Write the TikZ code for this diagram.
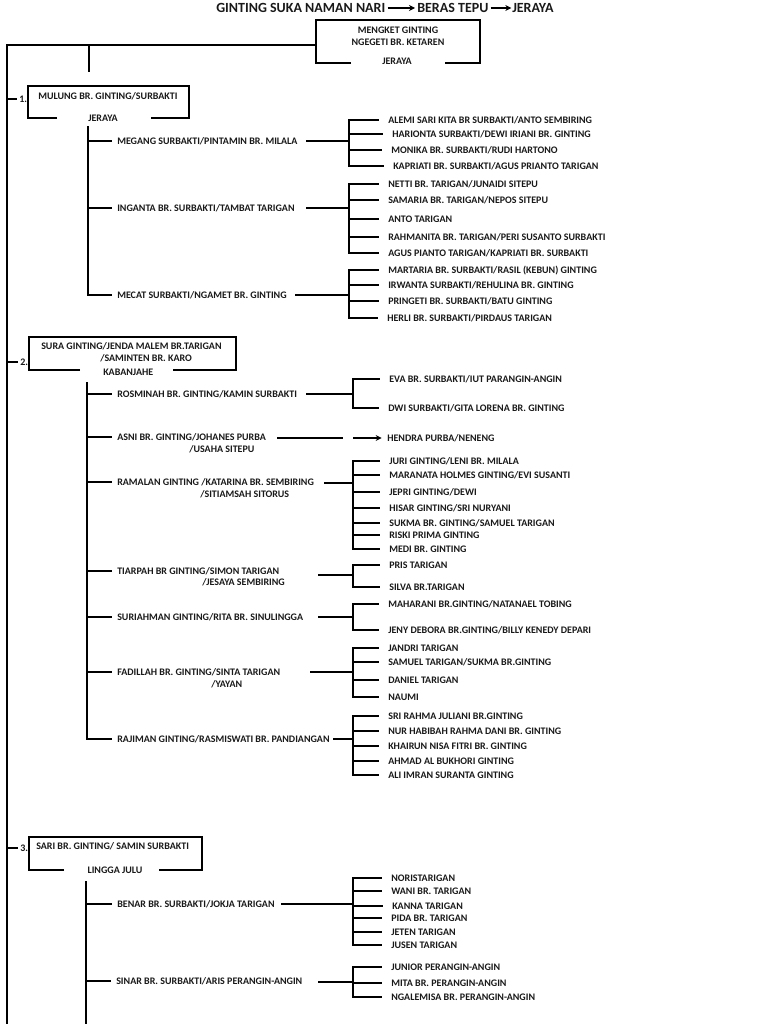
\documentclass[tikz,border=0pt]{standalone}
\usepackage{fontspec}
\setmainfont{Carlito}
\usetikzlibrary{arrows.meta}
\newcommand{\kidgroup}[4]{%
  \coordinate (#1) at (#2,#3);
  \foreach \gx/\gy/\gt [count=\gi] in {#4} {
    \node[txt] (#1-\gi) at (\gx,\gy) {\gt};
    \draw[ln] (#1) |- ([xshift=-6.5pt]#1-\gi.west);
  }}
\begin{document}
\begin{tikzpicture}[x=0.75pt,y=-0.75pt,
  ln/.style={line width=1.6pt,black},
  mainln/.style={line width=1.9pt,black},
  txt/.style={font=\bfseries\fontsize{7.5}{8}\selectfont, anchor=west, inner sep=0pt,
    text height=4.8pt, text depth=0pt, text=black!90},
  ctxt/.style={txt, anchor=center},
  ttl/.style={font=\bfseries\fontsize{10.5}{12}\selectfont, anchor=west, inner sep=0pt,
    text height=7pt, text depth=0pt, text=black!90},
  arr/.style={line width=1.3pt,-{Stealth[length=4.5pt,width=4.5pt]}}]
\useasboundingbox (0,0) rectangle (768,1024);

% Title
\node[ttl] (t1) at (216,8) {GINTING SUKA NAMAN NARI};
\node[ttl] (t2) at (417,8) {BERAS TEPU};
\node[ttl] (t3) at (512,8) {JERAYA};
\draw[arr] ([xshift=1.5pt]t1.east) -- ([xshift=-1.5pt]t2.west);
\draw[arr] ([xshift=1.5pt]t2.east) -- ([xshift=-0.5pt]t3.west);

% Top box
\node[ctxt] (m1) at (398,30) {MENGKET GINTING};
\node[ctxt] (m2) at (398,42) {NGEGETI BR. KETAREN};
\node[ctxt] (m3) at (397,61) {JERAYA};
\draw[ln] (351,63) -- (316,63) -- (316,20) -- (480,20) -- (480,63) -- (445,63);
\coordinate (top) at (316,45);
\coordinate (lt) at (7,45);
\coordinate (lb) at (7,1024);
\coordinate (st) at (89,45);
\coordinate (sb) at (89,72);
\draw[mainln] (lb) -- (lt) -- (top);
\draw[ln] (st) -- (sb);

% ================= Section 1
\coordinate (L1) at (7,99);
\node[txt] (n1) at (19,99) {1.};
\draw[ln] (L1) -- ([xshift=-1.5pt]n1.west);
\node[txt] (h1) at (38,96) {MULUNG BR. GINTING/SURBAKTI};
\node[ctxt] (h1b) at (103,118) {JERAYA};
\draw[ln] (57,118) -- (28,118) -- (28,86) -- (189,86) -- (189,118) -- (151,118);
\coordinate (tr1) at (88,126);

\node[txt] (c11) at (117,141) {MEGANG SURBAKTI/PINTAMIN BR. MILALA};
\node[txt] (c12) at (117,208) {INGANTA BR. SURBAKTI/TAMBAT TARIGAN};
\node[txt] (c13) at (117,295) {MECAT SURBAKTI/NGAMET BR. GINTING};
\foreach \c in {c11,c12,c13} \draw[ln] (tr1) |- ([xshift=-3.5pt]\c.west);

\kidgroup{k11}{349}{141}{388/120/{ALEMI SARI KITA BR SURBAKTI/ANTO SEMBIRING},
  392/134/{HARIONTA SURBAKTI/DEWI IRIANI BR. GINTING},
  391/150/{MONIKA BR. SURBAKTI/RUDI HARTONO},
  393/166/{KAPRIATI BR. SURBAKTI/AGUS PRIANTO TARIGAN}}
\coordinate (s11) at (306,141);
\draw[ln] (s11) -- (k11);

\kidgroup{k12}{349}{208}{388/184/{NETTI BR. TARIGAN/JUNAIDI SITEPU},
  388/200/{SAMARIA BR. TARIGAN/NEPOS SITEPU},
  388/219/{ANTO TARIGAN},
  388/237/{RAHMANITA  BR. TARIGAN/PERI SUSANTO SURBAKTI},
  388/253/{AGUS PIANTO TARIGAN/KAPRIATI BR. SURBAKTI}}
\coordinate (s12) at (306,208);
\draw[ln] (s12) -- (k12);

\kidgroup{k13}{349}{295}{388/270/{MARTARIA BR. SURBAKTI/RASIL (KEBUN) GINTING},
  388/285/{IRWANTA SURBAKTI/REHULINA BR. GINTING},
  388/301/{PRINGETI BR. SURBAKTI/BATU GINTING},
  387/318/{HERLI BR. SURBAKTI/PIRDAUS TARIGAN}}
\coordinate (s13) at (295,295);
\draw[ln] (s13) -- (k13);

% ================= Section 2
\coordinate (L2) at (7,362);
\node[txt] (n2) at (20,362) {2.};
\draw[ln] (L2) -- ([xshift=-1.5pt]n2.west);
\node[txt] (h2) at (41,346) {SURA GINTING/JENDA MALEM BR.TARIGAN};
\node[txt] (h2b) at (100,358) {/SAMINTEN BR. KARO};
\node[txt] (h2c) at (103,372) {KABANJAHE};
\draw[ln] (80,370) -- (29,370) -- (29,337) -- (236,337) -- (236,370) -- (173,370);
\coordinate (tr2) at (87,382);

\node[txt] (c21) at (117,394) {ROSMINAH BR. GINTING/KAMIN SURBAKTI};
\node[txt] (c22) at (117,437) {ASNI BR. GINTING/JOHANES PURBA};
\node[txt] (c22b) at (189,449) {/USAHA SITEPU};
\node[txt] (c23) at (117,482) {RAMALAN GINTING /KATARINA BR. SEMBIRING};
\node[txt] (c23b) at (200,494) {/SITIAMSAH SITORUS};
\node[txt] (c24) at (117,571) {TIARPAH BR GINTING/SIMON TARIGAN};
\node[txt] (c24b) at (202,582) {/JESAYA SEMBIRING};
\node[txt] (c25) at (117,617) {SURIAHMAN GINTING/RITA BR. SINULINGGA};
\node[txt] (c26) at (117,672) {FADILLAH BR. GINTING/SINTA TARIGAN};
\node[txt] (c26b) at (211,684) {/YAYAN};
\node[txt] (c27) at (117,739) {RAJIMAN GINTING/RASMISWATI BR. PANDIANGAN};
\foreach \c in {c21,c22,c23,c24,c25,c26,c27} \draw[ln] (tr2) |- ([xshift=-3.5pt]\c.west);

\kidgroup{k21}{353}{394}{389/379/{EVA BR. SURBAKTI/IUT PARANGIN-ANGIN},
  388/408/{DWI SURBAKTI/GITA LORENA BR. GINTING}}
\coordinate (s21) at (306,394);
\draw[ln] (s21) -- (k21);

\coordinate (s22) at (277,438);
\coordinate (e22) at (343,438);
\coordinate (a22) at (353,438);
\node[txt] (hendra) at (387,438) {HENDRA PURBA/NENENG};
\draw[ln] (s22) -- (e22);
\draw[arr] (a22) -- ([xshift=-4pt]hendra.west);

\kidgroup{k23}{353}{483}{389/461/{JURI GINTING/LENI BR. MILALA},
  389/475/{MARANATA HOLMES GINTING/EVI SUSANTI},
  389/492/{JEPRI GINTING/DEWI},
  389/508/{HISAR GINTING/SRI NURYANI},
  389/523/{SUKMA BR. GINTING/SAMUEL TARIGAN},
  389/535/{RISKI PRIMA GINTING},
  389/549/{MEDI BR. GINTING}}
\coordinate (s23) at (324,483);
\draw[ln] (s23) -- (k23);

\kidgroup{k24}{353}{575}{389/565/{PRIS TARIGAN},
  389/587/{SILVA BR.TARIGAN}}
\coordinate (s24) at (318,575);
\draw[ln] (s24) -- (k24);

\kidgroup{k25}{353}{617}{388/604/{MAHARANI BR.GINTING/NATANAEL TOBING},
  388/630/{JENY DEBORA BR.GINTING/BILLY KENEDY DEPARI}}
\coordinate (s25) at (318,617);
\draw[ln] (s25) -- (k25);

\kidgroup{k26}{353}{672}{388/648/{JANDRI TARIGAN},
  388/662/{SAMUEL TARIGAN/SUKMA BR.GINTING},
  388/680/{DANIEL TARIGAN},
  388/697/{NAUMI}}
\coordinate (s26) at (310,672);
\draw[ln] (s26) -- (k26);

\kidgroup{k27}{353}{739}{388/716/{SRI RAHMA JULIANI BR.GINTING},
  388/731/{NUR HABIBAH RAHMA DANI BR. GINTING},
  388/746/{KHAIRUN NISA FITRI BR. GINTING},
  388/761/{AHMAD AL BUKHORI GINTING},
  388/775/{ALI IMRAN SURANTA GINTING}}
\coordinate (s27) at (333,739);
\draw[ln] (s27) -- (k27);

% ================= Section 3
\coordinate (L3) at (7,848);
\node[txt] (n3) at (20,848) {3.};
\draw[ln] (L3) -- ([xshift=-1.5pt]n3.west);
\node[txt] (h3) at (36,846) {SARI BR. GINTING/ SAMIN SURBAKTI};
\node[ctxt] (h3b) at (115,870) {LINGGA JULU};
\draw[ln] (64,870) -- (29,870) -- (29,837) -- (202,837) -- (202,870) -- (159,870);
\coordinate (tr3) at (86,881);
\coordinate (tr3e) at (86,1024);
\draw[ln] (tr3) -- (tr3e);

\node[txt] (c31) at (117,904) {BENAR BR. SURBAKTI/JOKJA TARIGAN};
\node[txt] (c32) at (116,981) {SINAR BR. SURBAKTI/ARIS PERANGIN-ANGIN};
\foreach \c in {c31,c32} \draw[ln] (tr3) |- ([xshift=-3.5pt]\c.west);

\kidgroup{k31}{353}{904}{391/878/{NORISTARIGAN},
  391/891/{WANI BR. TARIGAN},
  392/906/{KANNA TARIGAN},
  391/918/{PIDA BR. TARIGAN},
  391/932/{JETEN TARIGAN},
  391/945/{JUSEN TARIGAN}}
\coordinate (s31) at (281,904);
\draw[ln] (s31) -- (k31);

\kidgroup{k32}{353}{982}{391/967/{JUNIOR PERANGIN-ANGIN},
  391/983/{MITA BR. PERANGIN-ANGIN},
  391/997/{NGALEMISA BR. PERANGIN-ANGIN}}
\coordinate (s32) at (318,982);
\draw[ln] (s32) -- (k32);
\end{tikzpicture}
\end{document}
